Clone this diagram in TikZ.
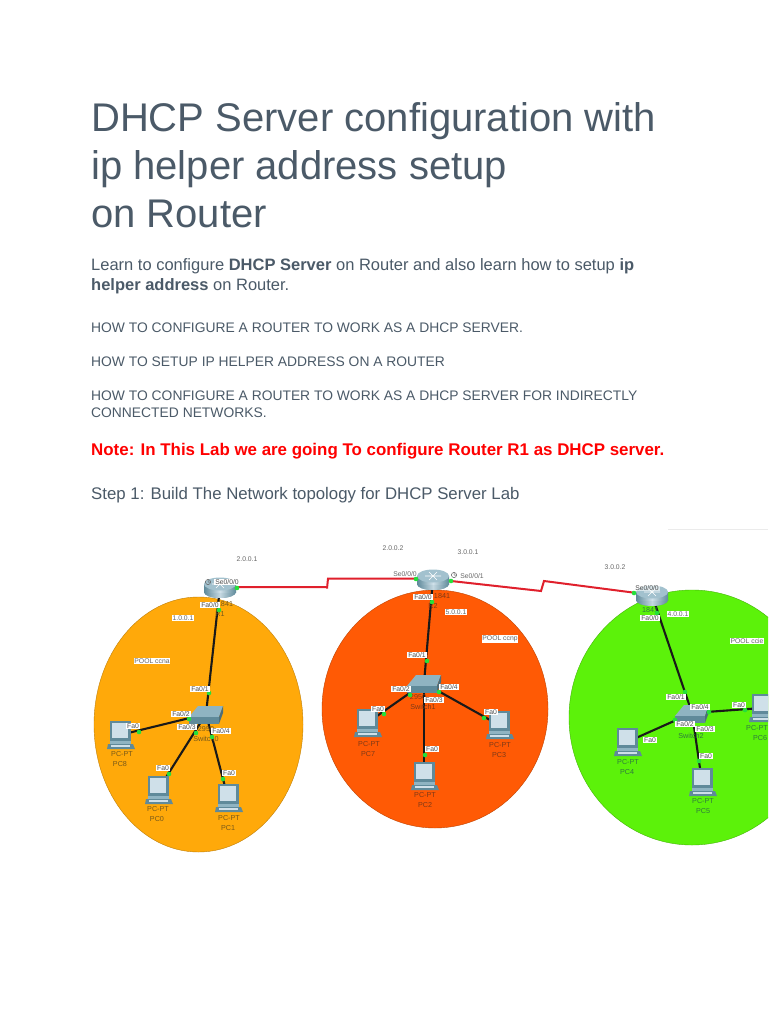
\documentclass[tikz,border=0pt]{standalone}
\usepackage{fontspec}
\setmainfont{Liberation Sans}
\definecolor{ink}{HTML}{4B5A68}
\definecolor{zoneA}{HTML}{FFA90A}
\definecolor{zoneB}{HTML}{FF5A05}
\definecolor{zoneC}{HTML}{5CF20A}
\definecolor{dotg}{HTML}{25E03A}
\definecolor{lnkred}{HTML}{E0202C}
\definecolor{devdark}{HTML}{5F8A9A}
\definecolor{devmid}{HTML}{8FB4C2}
\definecolor{devlight}{HTML}{CFE0E9}
\definecolor{lblA}{HTML}{77591A}
\definecolor{lblB}{HTML}{7E3A18}
\definecolor{lblC}{HTML}{2F7A3E}
\newcommand{\fs}[1]{\fontsize{#1}{#1}\selectfont}
\tikzset{
  x=1pt,y=-1pt,
  txt/.style={anchor=base west,inner sep=0pt,text=ink},
  zone/.style={draw=#1!75!black,line width=.4pt,fill=#1},
  link/.style={draw=black!90,line width=2.1pt},
  serial/.style={draw=lnkred,line width=2pt},
  tag/.style={fill=white,inner sep=.9pt,text=black!70,font=\fs{6.8}},
  addr/.style={fill=white,inner sep=.9pt,text=black!60,font=\fs{6.8}},
  plain/.style={inner sep=0pt,text=black!60,font=\fs{6.8}},
  devA/.style={inner sep=0pt,text=lblA,font=\fs{7.2}},
  devB/.style={inner sep=0pt,text=lblB,font=\fs{7.2}},
  devC/.style={inner sep=0pt,text=lblC,font=\fs{7.2}},
  routericon/.pic={
    \fill[devdark] (0,5) ellipse[x radius=16,y radius=6];
    \shade[left color=devdark,right color=devdark,middle color=devlight] (-16,-3) rectangle (16,5);
    \shade[left color=devdark,right color=devdark,middle color=devlight,opacity=.9] (0,5) ellipse[x radius=16,y radius=6];
    \fill[devmid!70!devlight] (0,-3) ellipse[x radius=16,y radius=6.5];
    \draw[white,line width=.6pt] (-8,-3) -- (8,-3) (-4,-7) -- (4,1) (4,-7) -- (-4,1);
  },
  switchicon/.pic={
    \fill[devmid] (-17,3) -- (-8,-8) -- (17,-8) -- (13,3) -- cycle;
    \fill[devdark] (-17,3) -- (13,3) -- (13,10) -- (-17,10) -- cycle;
    \fill[devdark!80!black] (13,3) -- (17,-8) -- (17,-1) -- (13,10) -- cycle;
  },
  pcicon/.pic={
    \fill[devdark] (-10,-14) rectangle (11,6);
    \fill[devlight] (-8,-12) rectangle (8,3);
    \fill[devmid] (-10,6) rectangle (11,9);
    \fill[devdark] (-12,9) -- (13,9) -- (15,14) -- (-13,14) -- cycle;
    \fill[devlight] (-9,10) rectangle (10,12);
  },
  clockicon/.pic={
    \draw[black!60,line width=.5pt] (0,0) circle[radius=2.6] (0,0) -- (2,0) (0,0) -- (0,-2);
  },
}
\begin{document}
\begin{tikzpicture}
\useasboundingbox[fill=white] (0,0) rectangle (768,1024);
\clip (0,0) rectangle (768,1024);

% text block
\node[txt,font=\fs{40}] (t1) at (91,132) {DHCP Server configuration with};
\node[txt,font=\fs{40}] (t2) at (91,180) {ip helper address setup};
\node[txt,font=\fs{40}] (t3) at (91,228) {on Router};
\node[txt,font=\fs{16.5}] (p1) at (91,270) {Learn to configure \textbf{DHCP Server} on Router and also learn how to setup \textbf{ip}};
\node[txt,font=\fs{16.5}] (p2) at (91,290) {\textbf{helper address} on Router.};
\node[txt,font=\fs{13.85}] (h1) at (91,332) {HOW TO CONFIGURE A ROUTER TO WORK AS A DHCP SERVER.};
\node[txt,font=\fs{13.85}] (h2) at (91,366) {HOW TO SETUP IP HELPER ADDRESS ON A ROUTER};
\node[txt,font=\fs{13.85}] (h3) at (91,400) {HOW TO CONFIGURE A ROUTER TO WORK AS A DHCP SERVER FOR INDIRECTLY};
\node[txt,font=\fs{13.85}] (h4) at (91,417) {CONNECTED NETWORKS.};
\node[txt,font=\fs{16.9}\bfseries,text=red] (n1) at (91,455) {Note: In This Lab we are going To configure Router R1 as DHCP server.};
\node[txt,font=\fs{16.8}] (s1) at (91,499) {Step 1: Build The Network topology for DHCP Server Lab};

% zones
\fill[zone=zoneA] (198.5,724.5) ellipse[x radius=104.5,y radius=127.5];
\fill[zone=zoneB] (435,709) ellipse[x radius=113,y radius=119];
\fill[zone=zoneC] (692,717.5) ellipse[x radius=123,y radius=127.5];
\draw[black!8,line width=.8pt] (668,529) -- (768,529);

% device anchors
\coordinate (r1) at (220,587);
\coordinate (r2) at (433,579);
\coordinate (r3) at (652,595);
\coordinate (sw1) at (206,714);
\coordinate (sw2) at (424,683);
\coordinate (sw3) at (692,713);
\coordinate (pc8) at (120,735);
\coordinate (pc0) at (158,790);
\coordinate (pc1) at (228,798);
\coordinate (pc7) at (367,723);
\coordinate (pc2) at (424,776);
\coordinate (pc3) at (499,725);
\coordinate (pc4) at (627,742);
\coordinate (pc5) at (702,782);
\coordinate (pc6) at (762,708);

% bends of the serial links
\coordinate (j1) at (327,588.5);
\coordinate (j2) at (328,578.5);
\coordinate (j3) at (541,591);
\coordinate (j4) at (544,581);

\draw[serial] (r1) -- (r1 -| j1) -- (j1) -- (j2) -- (j2 -| r2);
\draw[serial] (r2) -- (j3) -- (j4) -- (r3);

\foreach \a/\b in {r1/sw1,sw1/pc8,sw1/pc0,sw1/pc1,r2/sw2,sw2/pc7,sw2/pc2,sw2/pc3,r3/sw3,sw3/pc4,sw3/pc5,sw3/pc6}
  \draw[link] (\a) -- (\b);

% icons
\foreach \d in {r1,r2,r3} \pic at (\d) {routericon};
\foreach \d in {sw1,sw2,sw3} \pic at (\d) {switchicon};
\foreach \d in {pc8,pc0,pc1,pc7,pc2,pc3,pc4,pc5,pc6} \pic at (\d) {pcicon};
\coordinate (ck1) at (208,582);
\coordinate (ck2) at (454,575);
\pic at (ck1) {clockicon};
\pic at (ck2) {clockicon};

% device captions
\node[devA] (c1) at (225,604) {1841};
\node[devA] (c2) at (220,614) {R1};
\node[devA] (c3) at (206,729) {2950};
\node[devA] (c4) at (206,739) {Switch0};
\node[devA] (c5) at (122,754) {PC-PT};
\node[devA] (c6) at (120,764) {PC8};
\node[devA] (c7) at (158,809) {PC-PT};
\node[devA] (c8) at (157,819) {PC0};
\node[devA] (c9) at (229,818) {PC-PT};
\node[devA] (c10) at (228,828) {PC1};
\node[devB] (c11) at (442,596) {1841};
\node[devB] (c12) at (433,606) {R2};
\node[devB] (c13) at (418,697) {2950};
\node[devB] (c14) at (423,707) {Switch1};
\node[devB] (c15) at (369,744) {PC-PT};
\node[devB] (c16) at (368,754) {PC7};
\node[devB] (c17) at (500,745) {PC-PT};
\node[devB] (c18) at (499,755) {PC3};
\node[devB] (c19) at (425,795) {PC-PT};
\node[devB] (c20) at (425,805) {PC2};
\node[devC] (c21) at (650,610) {1841};
\node[devC] (c22) at (691,736) {Switch2};
\node[devC] (c23) at (628,762) {PC-PT};
\node[devC] (c24) at (627,772) {PC4};
\node[devC] (c25) at (703,801) {PC-PT};
\node[devC] (c26) at (703,811) {PC5};
\node[devC,anchor=east] (c27) at (768,728) {PC-PT};
\node[devC] (c28) at (760,738) {PC6};

% port dots
\foreach \px/\py in {237/588,219/610,209/693,189/719,139/732,196/733,169/774,212/737,223/779,
  416/579,451/581,432/602,427/661,410/695,439/692,384/714,484/718,425/755,
  634/593,657/613,685/692,709/712,675/720,745/710,699/761}
  \fill[dotg] (\px,\py) circle[radius=2.3];

% port tags
\node[tag] (a1) at (227,582) {Se0/0/0};
\node[tag] (a2) at (210,605) {Fa0/0};
\node[tag] (a3) at (200,689) {Fa0/1};
\node[tag] (a4) at (181,714) {Fa0/2};
\node[tag] (a5) at (187,727) {Fa0/3};
\node[tag] (a6) at (221,731) {Fa0/4};
\node[tag] (a7) at (133,726) {Fa0};
\node[tag] (a8) at (163,768) {Fa0};
\node[tag] (a9) at (229,773) {Fa0};
\node[plain] (b1) at (405,574) {Se0/0/0};
\node[plain] (b2) at (472,576) {Se0/0/1};
\node[tag] (b3) at (423,597) {Fa0/0};
\node[tag] (b4) at (417,655) {Fa0/1};
\node[tag] (b5) at (401,689) {Fa0/2};
\node[tag] (b6) at (449,687) {Fa0/4};
\node[tag] (b7) at (434,700) {Fa0/3};
\node[tag] (b8) at (378,709) {Fa0};
\node[tag] (b9) at (491,712) {Fa0};
\node[tag] (b10) at (432,749) {Fa0};
\node[tag,fill opacity=.6,text opacity=1] (d1) at (647,588) {Se0/0/0};
\node[tag] (d2) at (650,618) {Fa0/0};
\node[tag] (d3) at (676,697) {Fa0/1};
\node[tag] (d4) at (700,707) {Fa0/4};
\node[tag] (d5) at (685,724) {Fa0/2};
\node[tag] (d6) at (705,729) {Fa0/3};
\node[tag] (d7) at (739,705) {Fa0};
\node[tag] (d8) at (650,740) {Fa0};
\node[tag] (d9) at (706,756) {Fa0};

% addresses and pools
\node[plain] (e1) at (247,559) {2.0.0.1};
\node[addr] (e2) at (183,618) {1.0.0.1};
\node[addr] (e3) at (152,661) {POOL ccna};
\node[plain] (e4) at (393,548) {2.0.0.2};
\node[plain] (e5) at (468,552) {3.0.0.1};
\node[addr] (e6) at (456,612) {5.0.0.1};
\node[addr] (e7) at (500,639) {POOL ccnp};
\node[plain] (e8) at (615,567) {3.0.0.2};
\node[addr] (e9) at (678,614) {4.0.0.1};
\node[addr] (e10) at (747,641) {POOL ccie};
\end{tikzpicture}
\end{document}
